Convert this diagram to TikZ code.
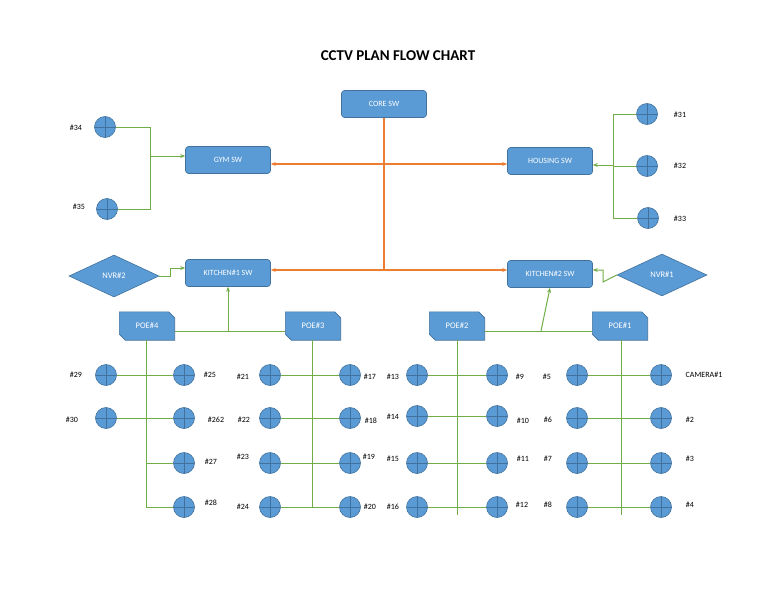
\documentclass[tikz,border=0pt]{standalone}
\usepackage{fontspec}
\setmainfont{Carlito}
\usetikzlibrary{shapes.geometric,arrows.meta}
\definecolor{bfill}{HTML}{5B9BD5}
\definecolor{bline}{HTML}{41719C}
\definecolor{gr}{HTML}{70AD47}
\definecolor{orng}{HTML}{ED7D31}
\tikzset{
 sw/.style={rectangle,rounded corners=3pt,fill=bfill,draw=bline,line width=0.6pt,minimum width=85pt,minimum height=27pt,text=white,font=\fontsize{8}{9}\selectfont},
 nvr/.style={diamond,aspect=2.1,fill=bfill,draw=bline,line width=0.6pt,minimum width=90pt,minimum height=42pt,inner sep=0pt,text=white,font=\fontsize{8.5}{9}\selectfont},
 poebox/.style={rectangle,minimum width=55pt,minimum height=28pt,inner sep=0pt},
 cam/.style={circle,fill=bfill,draw=bline,line width=0.6pt,minimum size=21pt,inner sep=0pt,
   path picture={\draw[bline,line width=0.6pt] (path picture bounding box.north) -- (path picture bounding box.south) (path picture bounding box.west) -- (path picture bounding box.east);}},
 lbl/.style={font=\fontsize{8}{9}\selectfont,text=black},
 og/.style={orng,line width=1.2pt},
 ogarr/.style={og,{Stealth[length=5pt,width=4pt]}-{Stealth[length=5pt,width=4pt]}},
 gl/.style={gr,line width=1pt},
 garr/.style={gl,-{Stealth[length=5pt,width=4pt]}},
}
\newcommand{\poe}[3]{%
 \node[poebox] (#1) at (#2) {};
 \filldraw[fill=bfill,draw=bline,line width=0.6pt] (#1.north west) -- ([xshift=-6pt]#1.north east) -- ([yshift=-6pt]#1.north east) -- (#1.south east) -- ([xshift=6pt]#1.south west) -- ([yshift=6pt]#1.south west) -- cycle;
 \node[text=white,font=\fontsize{8.5}{9}\selectfont] at (#1) {#3};}
\begin{document}
\begin{tikzpicture}[x=1pt,y=-1pt]
\useasboundingbox (0,0) rectangle (768,594);
\node[font=\bfseries\fontsize{15}{17}\selectfont] (title) at (398,56) {CCTV PLAN FLOW CHART};
% switches
\node[sw] (core) at (384,104) {CORE SW};
\node[sw] (gym) at (228,160) {GYM SW};
\node[sw] (hous) at (550,161) {HOUSING SW};
\node[sw] (k1) at (228,273) {KITCHEN\#1 SW};
\node[sw] (k2) at (550,274) {KITCHEN\#2 SW};
\node[nvr] (nvr2) at (114,276) {NVR\#2};
\node[nvr] (nvr1) at (662,275) {NVR\#1};
\poe{p4}{147,326}{POE\#4}
\poe{p3}{313,326}{POE\#3}
\poe{p2}{457,326}{POE\#2}
\poe{p1}{620,326}{POE\#1}
% orange
\coordinate (ob) at (384,270);
\draw[og] (core.south) -- (ob);
\draw[ogarr] (gym.east |- 0,164) -- (hous.west |- 0,164);
\draw[ogarr] (k1.east |- 0,270) -- (k2.west |- 0,270);
% green top
\node[cam] (c34) at (105,127) {}; \node[lbl] (l34) at (76,128) {\#34};
\node[cam] (c35) at (107,209) {}; \node[lbl] (l35) at (79,207) {\#35};
\coordinate (gj) at (150,156);
\draw[gl] (c34.east) -- (150,127) -- (150,209) -- (c35.east);
\draw[garr] (gj) -- (gym.west |- gj);
\node[cam] (c31) at (647,114) {}; \node[lbl] (l31) at (680,115) {\#31};
\node[cam] (c32) at (647,166) {}; \node[lbl] (l32) at (680,166) {\#32};
\node[cam] (c33) at (648,218) {}; \node[lbl] (l33) at (680,219) {\#33};
\coordinate (hj) at (613,165);
\draw[gl] (c31.west) -- (613,114) -- (613,218) -- (c33.west);
\draw[gl] (c32.west) -- (613,166);
\draw[garr] (hj) -- (hous.east |- hj);
% nvr
\draw[garr] (nvr2.east) -- (170,276) -- (170,268) -- (k1.west |- 0,268);
\draw[garr] (nvr1.west) -- (603,282) -- (603,270) -- (k2.east |- 0,270);
% poe links
\coordinate (j1) at (228,331);
\draw[gl] (p4.east |- j1) -- (p3.west |- j1);
\draw[garr] (j1) -- (k1.south);
\coordinate (j2) at (541,331);
\draw[gl] (p2.east |- j2) -- (p1.west |- j2);
\draw[garr] (j2) -- (k2.south);
% POE4 group
\foreach \n/\x/\y in {29/106/375,30/106/418,25/184/375,262/184/418,27/184/463,28/184/507}{\node[cam] (c\n) at (\x,\y) {};}
\coordinate (e4) at (146,507);
\draw[gl] (p4.south -| 146,0) -- (e4) -- (c28.west);
\draw[gl] (c29.east) -- (c25.west);
\draw[gl] (c30.east) -- (c262.west);
\draw[gl] (146,463) -- (c27.west);
\node[lbl] at (76,375) {\#29}; \node[lbl] at (72,420) {\#30};
\node[lbl] at (210,375) {\#25}; \node[lbl] at (216,420) {\#262};
\node[lbl] at (211,462) {\#27}; \node[lbl] at (211,503) {\#28};
% POE3 group
\foreach \n/\y in {21/375,22/418,23/463,24/507}{\node[cam] (c\n) at (270,\y) {};}
\foreach \n/\y in {17/375,18/418,19/463,20/507}{\node[cam] (c\n) at (350,\y) {};}
\coordinate (e3) at (312,507);
\draw[gl] (p3.south -| 312,0) -- (e3);
\draw[gl] (c21.east) -- (c17.west); \draw[gl] (c22.east) -- (c18.west);
\draw[gl] (c23.east) -- (c19.west); \draw[gl] (c24.east) -- (c20.west);
\node[lbl] at (243,377) {\#21}; \node[lbl] at (244,420) {\#22};
\node[lbl] at (243,457) {\#23}; \node[lbl] at (243,507) {\#24};
\node[lbl] at (370,377) {\#17}; \node[lbl] at (371,421) {\#18};
\node[lbl] at (369,457) {\#19}; \node[lbl] at (370,507) {\#20};
% POE2 group
\foreach \n/\y in {13/375,14/416,15/463,16/507}{\node[cam] (c\n) at (417,\y) {};}
\foreach \n/\y in {9/375,10/416,11/463,12/507}{\node[cam] (c\n) at (497,\y) {};}
\coordinate (e2) at (457,515);
\draw[gl] (p2.south -| 457,0) -- (e2);
\draw[gl] (c13.east) -- (c9.west); \draw[gl] (c14.east) -- (c10.west);
\draw[gl] (c15.east) -- (c11.west); \draw[gl] (c16.east) -- (c12.west);
\node[lbl] at (393,377) {\#13}; \node[lbl] at (393,417) {\#14};
\node[lbl] at (393,459) {\#15}; \node[lbl] at (393,507) {\#16};
\node[lbl] at (520,377) {\#9}; \node[lbl] at (523,421) {\#10};
\node[lbl] at (523,459) {\#11}; \node[lbl] at (522,505) {\#12};
% POE1 group
\foreach \n/\y in {5/375,6/418,7/463,8/507}{\node[cam] (c\n) at (577,\y) {};}
\foreach \n/\y in {1/375,2/418,3/463,4/507}{\node[cam] (d\n) at (661,\y) {};}
\coordinate (e1) at (621,515);
\draw[gl] (p1.south -| 621,0) -- (e1);
\draw[gl] (c5.east) -- (d1.west); \draw[gl] (c6.east) -- (d2.west);
\draw[gl] (c7.east) -- (d3.west); \draw[gl] (c8.east) -- (d4.west);
\node[lbl] at (547,377) {\#5}; \node[lbl] at (548,420) {\#6};
\node[lbl] at (548,459) {\#7}; \node[lbl] at (548,505) {\#8};
\node[lbl] at (704,375) {CAMERA\#1}; \node[lbl] at (690,420) {\#2};
\node[lbl] at (690,459) {\#3}; \node[lbl] at (690,505) {\#4};
\end{tikzpicture}
\end{document}
